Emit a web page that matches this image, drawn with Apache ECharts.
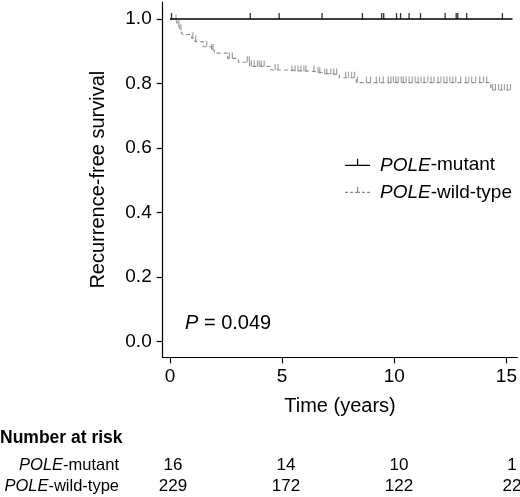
<!DOCTYPE html>
<html>
<head>
<meta charset="utf-8">
<script src="https://cdn.jsdelivr.net/npm/echarts@6/dist/echarts.min.js"></script>
<style>
html,body{margin:0;padding:0;background:#fff;}
#c{width:520px;height:497px;}
</style>
</head>
<body>
<div id="c"></div>
<script>
// ---- data ----
const groups = ['POLE-mutant', 'POLE-wild-type'];
const xTicks = [0, 5, 10, 15];
const yTicks = [0, 0.2, 0.4, 0.6, 0.8, 1.0];

const mutantTimes = [0, 15.27];
const mutantSurv  = [1.0, 1.0];
const mutantCensor = [0.07, 3.58, 4.87, 6.78, 8.58, 9.44, 9.53, 10.1, 10.28, 10.66, 11.17, 12.27, 12.76, 12.83, 13.23, 14.82];

const wildTimes = [0, 0.17, 0.3, 0.4, 0.47, 0.55, 0.97, 1.12, 1.48, 1.85, 1.98, 2.57, 3.05, 3.55, 4.5, 5.2, 6.55, 6.85, 7.55, 8.3, 14.3, 15.27];
const wildSurv  = [1.0, 0.995, 0.988, 0.978, 0.965, 0.952, 0.94, 0.93, 0.914, 0.904, 0.894, 0.878, 0.866, 0.853, 0.842, 0.837, 0.832, 0.828, 0.818, 0.803, 0.78, 0.78];
const wildCensor = [0.27, 0.4, 0.49, 1.02, 1.15, 1.64, 1.86, 1.92, 2.65, 2.78, 3.45, 3.54, 3.63, 3.76, 3.9, 3.98, 4.07, 4.2, 4.69, 4.82,
  5.44, 5.58, 5.71, 5.84, 5.97, 6.06, 6.42, 6.6, 6.68, 6.9, 6.99, 7.17, 7.3, 7.43, 7.83, 7.96, 8.1, 8.23, 8.36, 8.76, 8.94, 9.2, 9.34, 9.51,
  9.73, 9.85, 9.96, 10.07, 10.18, 10.31, 10.4, 10.53, 10.66, 10.8, 10.93, 11.06, 11.19, 11.33, 11.5, 11.64, 11.77, 11.95, 12.08, 12.21,
  12.35, 12.48, 12.61, 12.74, 12.96, 13.19, 13.32, 13.45, 13.63, 13.81, 13.98, 14.12, 14.38, 14.51, 14.65, 14.78, 14.91, 15.04, 15.18];

const riskTimes  = [0, 5, 10, 15];
const riskMutant = [16, 14, 10, 1];
const riskWild   = [229, 172, 122, 22];
const pText = '= 0.049';

// ---- helpers ----
function survAt(times, surv, t) {
  let s = surv[0];
  for (let i = 0; i < times.length; i++) if (times[i] <= t) s = surv[i];
  return s;
}
const FONT = "'Liberation Sans', Arial, Helvetica, sans-serif";
const MUT = '#000000';
const WILD = '#8a8a8a';

const chart = echarts.init(document.getElementById('c'), null, {renderer: 'canvas'});

const mutLine = mutantTimes.map((t, i) => [t, mutantSurv[i]]);
const wildLine = wildTimes.map((t, i) => [t, wildSurv[i]]);
const mutC = mutantCensor.map(t => [t, survAt(mutantTimes, mutantSurv, t)]);
const wildC = wildCensor.map(t => [t, survAt(wildTimes, wildSurv, t)]);

const riskData = [];
riskTimes.forEach((t, i) => {
  riskData.push([t, groups[0], riskMutant[i]]);
  riskData.push([t, groups[1], riskWild[i]]);
});

const italicName = n => '{i|' + n.slice(0, 4) + '}' + n.slice(4);

const option = {
  animation: false,
  backgroundColor: '#fff',
  textStyle: {fontFamily: FONT},
  grid: [
    {left: 162.7, right: 0, top: 2, bottom: 139.7, containLabel: false},
    {left: 162.7, right: 0, top: 454.5, height: 44.6, containLabel: false}
  ],
  xAxis: [{
    type: 'value', gridIndex: 0, min: -0.323, max: 15.487,
    name: 'Time (years)', nameLocation: 'middle', nameGap: 39,
    nameTextStyle: {fontSize: 20, color: '#000', fontFamily: FONT},
    axisLine: {show: true, onZero: false, lineStyle: {color: '#000', width: 1.2}},
    axisTick: {show: true, length: 6, customValues: xTicks, lineStyle: {color: '#000', width: 1.2}},
    axisLabel: {show: true, customValues: xTicks, fontSize: 19, color: '#000', margin: 10, fontFamily: FONT},
    splitLine: {show: false}
  }, {
    type: 'value', gridIndex: 1, min: -0.323, max: 15.487, show: false
  }],
  yAxis: [{
    type: 'value', gridIndex: 0, min: -0.0483, max: 1.0527,
    name: 'Recurrence-free survival', nameLocation: 'middle', nameGap: 54, nameRotate: 90,
    nameTextStyle: {fontSize: 20, color: '#000', fontFamily: FONT},
    axisLine: {show: true, onZero: false, lineStyle: {color: '#000', width: 1.2}},
    axisTick: {show: true, length: 6, customValues: yTicks, lineStyle: {color: '#000', width: 1.2}},
    axisLabel: {show: true, customValues: yTicks, fontSize: 19, color: '#000', margin: 11, fontFamily: FONT,
      formatter: v => Number(v).toFixed(1)},
    splitLine: {show: false}
  }, {
    type: 'category', gridIndex: 1, data: groups, inverse: true,
    axisLine: {show: false}, axisTick: {show: false}, splitLine: {show: false},
    axisLabel: {show: true, interval: 0, hideOverlap: false, margin: 43.7, fontSize: 16.5, color: '#000', fontFamily: FONT,
      formatter: italicName,
      rich: {i: {fontStyle: 'italic', fontSize: 16.5, color: '#000', fontFamily: FONT}}}
  }],
  legend: {
    orient: 'vertical', left: 340, top: 150, itemGap: 7,
    itemWidth: 25, itemHeight: 13,
    data: [
      {name: groups[0], icon: 'path://M0,6H25V7.2H0Z M12,0H13.2V6H12Z M0,13L0.01,13L0,13Z'},
      {name: groups[1], icon: 'path://M0,6H3V7.2H0Z M5,6H8V7.2H5Z M10,6H12V7.2H10Z M12,1H13.2V7.2H12Z M13.2,6H15V7.2H13.2Z M17,6H20V7.2H17Z M22,6H25V7.2H22Z M0,13L0.01,13L0,13Z'}
    ],
    formatter: italicName,
    textStyle: {fontSize: 19, color: '#000', fontFamily: FONT, lineHeight: 20.5, padding: [0, 0, 0, 5],
      rich: {i: {fontStyle: 'italic', fontSize: 19, color: '#000', fontFamily: FONT}}},
    itemStyle: {borderWidth: 0},
    lineStyle: {width: 0}
  },
  series: [
    {
      name: groups[0], type: 'line', xAxisIndex: 0, yAxisIndex: 0, data: mutLine,
      step: 'end', showSymbol: false, symbol: 'none',
      lineStyle: {color: MUT, width: 1.3}, itemStyle: {color: MUT}, z: 3
    },
    {
      name: groups[1], type: 'line', xAxisIndex: 0, yAxisIndex: 0, data: wildLine,
      step: 'end', showSymbol: false, symbol: 'none',
      lineStyle: {color: '#8f8f8f', width: 1.2, type: [4, 3]}, itemStyle: {color: WILD}, z: 2
    },
    {
      name: 'mutCensor', type: 'scatter', xAxisIndex: 0, yAxisIndex: 0, data: mutC,
      symbol: 'rect', symbolSize: [1.3, 6], symbolOffset: [0, -3],
      itemStyle: {color: MUT}, silent: true, z: 4
    },
    {
      name: 'wildCensor', type: 'scatter', xAxisIndex: 0, yAxisIndex: 0, data: wildC,
      symbol: 'rect', symbolSize: [1.2, 6], symbolOffset: [0, -3],
      itemStyle: {color: WILD}, silent: true, z: 2
    },
    {
      name: 'risk', type: 'scatter', xAxisIndex: 1, yAxisIndex: 1, data: riskData,
      symbolSize: 0, silent: true, itemStyle: {color: '#000', opacity: 1},
      label: {show: true, position: 'inside', offset: [3, 0], fontSize: 17, color: '#000', opacity: 1,
        textBorderWidth: 0, fontFamily: FONT,
        formatter: p => String(p.value[2])}
    }
  ],
  graphic: [
    {type: 'text', x: 185, y: 323, style: {text: '{i|P} ' + pText, fontSize: 20, fill: '#000', fontFamily: FONT,
      verticalAlign: 'middle', rich: {i: {fontStyle: 'italic', fontSize: 20, fill: '#000', fontFamily: FONT}}}},
    {type: 'text', x: 0, y: 438, style: {text: 'Number at risk', fontSize: 17.5, fontWeight: 'bold', fill: '#000',
      fontFamily: FONT, verticalAlign: 'middle'}}
  ]
};
chart.setOption(option);
</script>
</body>
</html>
